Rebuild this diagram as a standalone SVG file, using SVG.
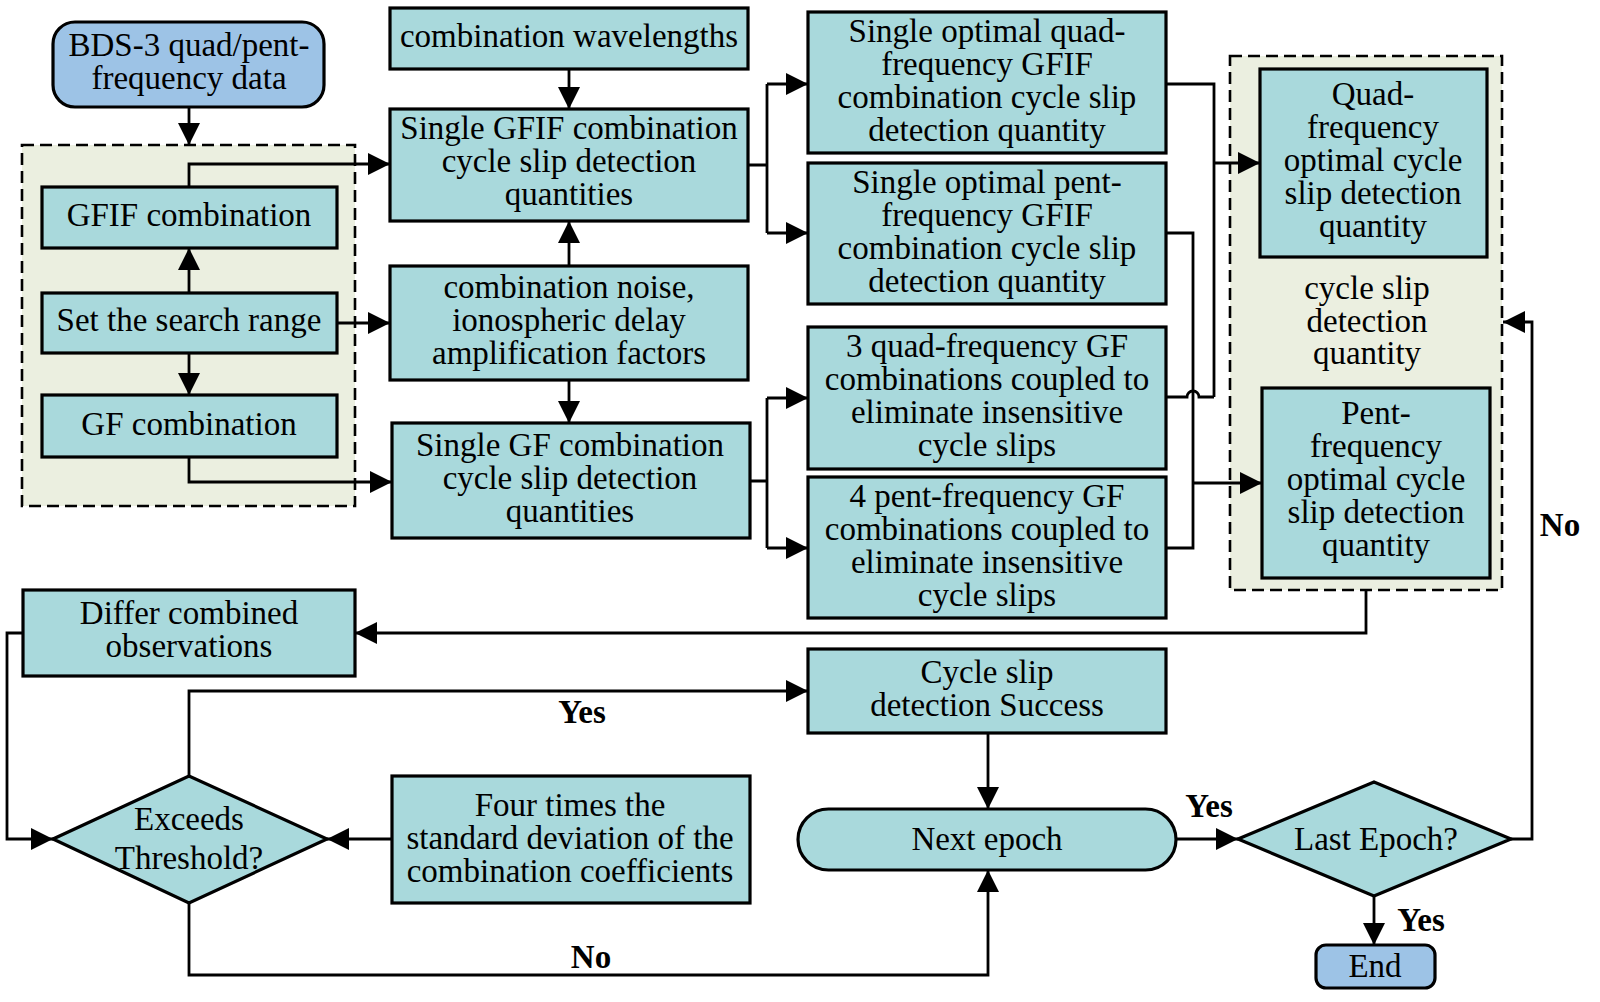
<svg xmlns="http://www.w3.org/2000/svg" width="1600" height="1002" viewBox="0 0 1600 1002">
<defs>
<marker id="arr" markerUnits="userSpaceOnUse" markerWidth="24" markerHeight="24" refX="22" refY="11" orient="auto">
<path d="M0,0 L22,11 L0,22 z" fill="#000"/>
</marker>
<style>
.box{fill:#a9d9dc;stroke:#000;stroke-width:3.2}
.blue{fill:#9dc3e6;stroke:#000;stroke-width:3.2}
.grp{fill:#ebefe0;stroke:#000;stroke-width:2.6;stroke-dasharray:12 6}
.t{font-family:"Liberation Serif","Times New Roman",serif;font-size:33px;text-anchor:middle;fill:#000}
.b{font-family:"Liberation Serif","Times New Roman",serif;font-size:33px;font-weight:bold;text-anchor:middle;fill:#000}
.c{fill:none;stroke:#000;stroke-width:2.8}
.a{fill:none;stroke:#000;stroke-width:2.8;marker-end:url(#arr)}
</style>
</defs>
<rect width="1600" height="1002" fill="#fff"/>

<g id="group-left"><rect class="grp" x="22" y="145" width="333" height="361"/></g>
<g id="group-right"><rect class="grp" x="1230" y="56" width="272" height="534"/>
<text class="t"><tspan x="1367" y="299">cycle slip</tspan><tspan x="1367" y="332">detection</tspan><tspan x="1367" y="364">quantity</tspan></text></g>

<g id="connectors">
<path class="a" d="M189,107 V145"/>
<path class="a" d="M189,187 V164 H390"/>
<path class="a" d="M189,293 V248"/>
<path class="a" d="M189,353 V395"/>
<path class="a" d="M337,323 H390"/>
<path class="a" d="M189,457 V482 H392"/>
<path class="a" d="M569,69 V109"/>
<path class="a" d="M569,266 V221"/>
<path class="a" d="M569,380 V423"/>
<path class="c" d="M748,165 H767 M767,84 V233"/>
<path class="a" d="M767,84 H808"/>
<path class="a" d="M767,233 H808"/>
<path class="c" d="M750,481 H767 M767,398 V548"/>
<path class="a" d="M767,398 H808"/>
<path class="a" d="M767,548 H808"/>
<path class="c" d="M1166,84 H1214 V397 M1166,397 H1187 A6,6 0 0 1 1199,397 H1214"/>
<path class="a" d="M1214,163 H1260"/>
<path class="c" d="M1166,233 H1193 V548 H1166"/>
<path class="a" d="M1193,483 H1262"/>
<path class="a" d="M1366,590 V633 H355"/>
<path class="a" d="M23,633 H7 V839 H53"/>
<path class="a" d="M392,839 H327"/>
<path class="a" d="M189,776 V691 H808"/>
<path class="a" d="M189,903 V975 H988 V870"/>
<path class="a" d="M988,733 V809"/>
<path class="a" d="M1176,839 H1238"/>
<path class="a" d="M1374,896 V945"/>
<path class="a" d="M1511,839 H1532 V322 H1503"/>
</g>

<g id="n-bds"><rect class="blue" x="53" y="22" width="271" height="85" rx="22"/>
<text class="t"><tspan x="189" y="56">BDS-3 quad/pent-</tspan><tspan x="189" y="89">frequency data</tspan></text></g>

<g id="n-gfif"><rect class="box" x="42" y="187" width="295" height="61"/><text class="t" x="189" y="226">GFIF combination</text></g>
<g id="n-search"><rect class="box" x="42" y="293" width="295" height="60"/><text class="t" x="189" y="331">Set the search range</text></g>
<g id="n-gf"><rect class="box" x="42" y="395" width="295" height="62"/><text class="t" x="189" y="435">GF combination</text></g>

<g id="n-wave"><rect class="box" x="390" y="8" width="358" height="61"/><text class="t" x="569" y="47">combination wavelengths</text></g>
<g id="n-single-gfif"><rect class="box" x="390" y="109" width="358" height="112"/>
<text class="t"><tspan x="569" y="139">Single GFIF combination</tspan><tspan x="569" y="172">cycle slip detection</tspan><tspan x="569" y="205">quantities</tspan></text></g>
<g id="n-noise"><rect class="box" x="390" y="266" width="358" height="114"/>
<text class="t"><tspan x="569" y="298">combination noise,</tspan><tspan x="569" y="331">ionospheric delay</tspan><tspan x="569" y="364">amplification factors</tspan></text></g>
<g id="n-single-gf"><rect class="box" x="392" y="423" width="358" height="115"/>
<text class="t"><tspan x="570" y="456">Single GF combination</tspan><tspan x="570" y="489">cycle slip detection</tspan><tspan x="570" y="522">quantities</tspan></text></g>

<g id="n-opt-quad"><rect class="box" x="808" y="12" width="358" height="141"/>
<text class="t"><tspan x="987" y="42">Single optimal quad-</tspan><tspan x="987" y="75">frequency GFIF</tspan><tspan x="987" y="108">combination cycle slip</tspan><tspan x="987" y="141">detection quantity</tspan></text></g>
<g id="n-opt-pent"><rect class="box" x="808" y="163" width="358" height="141"/>
<text class="t"><tspan x="987" y="193">Single optimal pent-</tspan><tspan x="987" y="226">frequency GFIF</tspan><tspan x="987" y="259">combination cycle slip</tspan><tspan x="987" y="292">detection quantity</tspan></text></g>
<g id="n-3quad"><rect class="box" x="808" y="327" width="358" height="142"/>
<text class="t"><tspan x="987" y="357">3 quad-frequency GF</tspan><tspan x="987" y="390">combinations coupled to</tspan><tspan x="987" y="423">eliminate insensitive</tspan><tspan x="987" y="456">cycle slips</tspan></text></g>
<g id="n-4pent"><rect class="box" x="808" y="477" width="358" height="141"/>
<text class="t"><tspan x="987" y="507">4 pent-frequency GF</tspan><tspan x="987" y="540">combinations coupled to</tspan><tspan x="987" y="573">eliminate insensitive</tspan><tspan x="987" y="606">cycle slips</tspan></text></g>

<g id="n-quad-opt"><rect class="box" x="1260" y="69" width="227" height="188"/>
<text class="t"><tspan x="1373" y="105">Quad-</tspan><tspan x="1373" y="138">frequency</tspan><tspan x="1373" y="171">optimal cycle</tspan><tspan x="1373" y="204">slip detection</tspan><tspan x="1373" y="237">quantity</tspan></text></g>
<g id="n-pent-opt"><rect class="box" x="1262" y="388" width="228" height="190"/>
<text class="t"><tspan x="1376" y="424">Pent-</tspan><tspan x="1376" y="457">frequency</tspan><tspan x="1376" y="490">optimal cycle</tspan><tspan x="1376" y="523">slip detection</tspan><tspan x="1376" y="556">quantity</tspan></text></g>

<g id="n-differ"><rect class="box" x="23" y="590" width="332" height="86"/>
<text class="t"><tspan x="189" y="624">Differ combined</tspan><tspan x="189" y="657">observations</tspan></text></g>
<g id="n-exceeds"><polygon class="box" points="53,839 189,776 327,839 189,903"/>
<text class="t"><tspan x="189" y="830">Exceeds</tspan><tspan x="189" y="869">Threshold?</tspan></text></g>
<g id="n-four"><rect class="box" x="392" y="776" width="358" height="127"/>
<text class="t"><tspan x="570" y="816">Four times the</tspan><tspan x="570" y="849">standard deviation of the</tspan><tspan x="570" y="882">combination coefficients</tspan></text></g>
<g id="n-success"><rect class="box" x="808" y="649" width="358" height="84"/>
<text class="t"><tspan x="987" y="683">Cycle slip</tspan><tspan x="987" y="716">detection Success</tspan></text></g>
<g id="n-next"><rect class="box" x="798" y="809" width="378" height="61" rx="30.5"/><text class="t" x="987" y="850">Next epoch</text></g>
<g id="n-last"><polygon class="box" points="1238,839 1374,782 1511,839 1374,896"/><text class="t" x="1376" y="850">Last Epoch?</text></g>
<g id="n-end"><rect class="blue" x="1316" y="945" width="119" height="43" rx="10"/><text class="t" x="1375" y="977">End</text></g>

<g id="labels">
<text class="b" x="582" y="723">Yes</text>
<text class="b" x="591" y="968">No</text>
<text class="b" x="1209" y="817">Yes</text>
<text class="b" x="1421" y="931">Yes</text>
<text class="b" x="1560" y="536">No</text>
</g>
</svg>
